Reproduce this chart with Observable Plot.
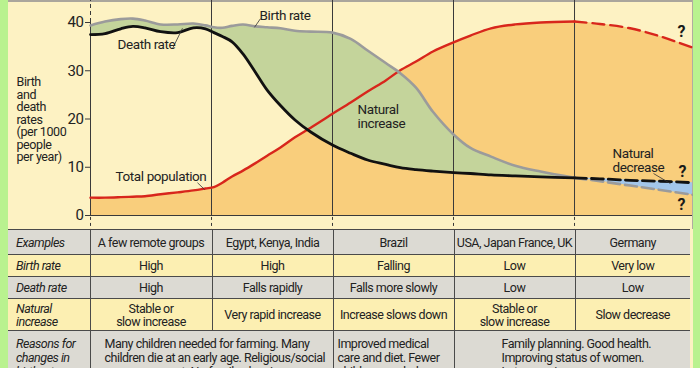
<!DOCTYPE html>
<html><head><meta charset="utf-8">
<script src="https://cdn.jsdelivr.net/npm/d3@7"></script>
<script src="https://cdn.jsdelivr.net/npm/@observablehq/plot@0.6"></script>
<style>
html,body{margin:0;padding:0;background:#b9f28f;width:700px;height:368px;overflow:hidden;}
#panel{position:absolute;left:8px;top:0;width:685px;height:368px;background:#fdf2c3;overflow:hidden;
  font-family:Roboto,"Liberation Sans",sans-serif;color:#222;}
#topline{position:absolute;left:0;top:0;width:685px;height:2px;background:#aaa69c;}
#chart{position:absolute;left:0;top:0;}
#tbl{position:absolute;left:0;top:229px;border-collapse:collapse;table-layout:fixed;width:682px;}
#tbl td{border:1px solid #4a4a4a;padding:0;text-align:center;font-size:12.5px;letter-spacing:-0.5px;line-height:13px;color:#222;vertical-align:middle;white-space:nowrap;overflow:hidden;}
#tbl td.lab{text-align:left;padding-left:8px;font-style:italic;border-left:none;}
#tbl tr td:last-child{border-right:none;}
#tbl tr.g{background:#dcdad3;}
#tbl tr.y{background:#fcefb2;}
#tbl tr.r td{vertical-align:top;text-align:left;line-height:14px;padding-top:6px;}
</style></head>
<body>
<div id="panel"><div id="topline"></div><div id="chart"></div><table id="tbl"></table></div>
<script>
// Stage position (0..5 = five stages of the model)
const stageX =     [0, 0.12, 0.25, 0.35, 0.45, 0.58, 0.72, 0.85, 0.95, 1.02, 1.09, 1.17, 1.26, 1.36, 1.46, 1.57, 1.69, 1.82, 2.0, 2.15, 2.29, 2.44, 2.56, 2.69, 2.83, 3.0, 3.14, 3.31, 3.51, 3.72, 4.0, 4.21, 4.46, 4.71, 4.975];
const birthRate =  [39.4, 40.2, 40.7, 40.8, 40.4, 39.6, 39.6, 39.8, 39.4, 39.0, 38.9, 39.3, 39.6, 39.2, 39.0, 38.8, 38.3, 38.1, 37.9, 36.6, 34.2, 31.6, 29.5, 26.5, 21.5, 16.8, 14.0, 12.2, 10.3, 9.1, 7.8, 7.1, 6.2, 5.3, 4.3];
const deathRate =  [37.5, 37.7, 38.7, 39.2, 38.9, 38.1, 37.9, 38.9, 38.7, 37.9, 37.1, 36.0, 33.5, 29.8, 26.0, 22.8, 19.8, 17.3, 14.6, 12.9, 11.5, 10.6, 9.9, 9.5, 9.2, 8.9, 8.7, 8.4, 8.2, 8.0, 7.8, 7.6, 7.3, 7.1, 6.8];
const population = [3.7, 3.7, 3.8, 3.9, 4.0, 4.4, 4.8, 5.2, 5.6, 5.9, 6.8, 8.1, 9.3, 10.8, 12.4, 14.1, 16.2, 18.2, 21.1, 23.4, 25.7, 28.0, 30.1, 31.9, 34.0, 35.9, 37.3, 38.8, 39.6, 40.0, 40.2, 39.7, 38.8, 37.1, 34.8];
const stageBounds = [0, 1, 2, 3, 4];
const yTicks = [0, 10, 20, 30, 40];
const yLabel = "Birth\nand\ndeath\nrates\n(per 1000\npeople\nper year)";

const labels = [
  {x: 1.397, y: 41.5, text: "Birth rate"},
  {x: 0.223, y: 35.4, text: "Death rate"},
  {x: 2.207, y: 20.5, text: "Natural\nincrease"},
  {x: 0.207, y: 8.1, text: "Total population"},
  {x: 4.314, y: 11.4, text: "Natural\ndecrease"}
];
const questions = [{x: 4.884, y: 38.1}, {x: 4.893, y: 9.1}, {x: 4.884, y: 2.1}];
const leaders = [
  {x1: 1.405, y1: 40.8, x2: 1.355, y2: 39.0},
  {x1: 0.678, y1: 34.6, x2: 0.76, y2: 38.8},
  {x1: 0.884, y1: 6.8, x2: 0.942, y2: 5.4},
  {x1: 4.653, y1: 8.7, x2: 4.793, y2: 6.6}
];

// Table text
const rowLabels = ["Examples", "Birth rate", "Death rate", "Natural\nincrease", "Reasons for\nchanges in\nbirth rate"];
const examples = ["A few remote groups", "Egypt, Kenya, India", "Brazil", "USA, Japan France, UK", "Germany"];
const birthText = ["High", "High", "Falling", "Low", "Very low"];
const deathText = ["High", "Falls rapidly", "Falls more slowly", "Low", "Low"];
const naturalText = ["Stable or\nslow increase", "Very rapid increase", "Increase slows down", "Stable or\nslow increase", "Slow decrease"];
const reasons = [
  "Many children needed for farming. Many\nchildren die at an early age. Religious/social\nencouragement. No family planning.",
  "Improved medical\ncare and diet. Fewer\nchildren needed.",
  "Family planning. Good health.\nImproving status of women.\nLater marriages."
];

const rows = stageX.map((x, i) => ({x, birth: birthRate[i], death: deathRate[i], pop: population[i]}));
const early = rows.filter(d => d.x <= 4);
const late = rows.filter(d => d.x >= 4);

const plot = Plot.plot({
  width: 685, height: 229,
  marginLeft: 82, marginRight: 1, marginTop: 22, marginBottom: 14,
  style: {background: "transparent", fontFamily: "Roboto, sans-serif", color: "#222"},
  x: {domain: [0, 4.975], axis: null},
  y: {domain: [0, 40], axis: null},
  marks: [
    Plot.areaY(rows, {x: "x", y: "pop", fill: "#f9ce7c", curve: "catmull-rom"}),
    Plot.areaY(early, {x: "x", y1: "death", y2: "birth", fill: "#c4d49b", curve: "catmull-rom"}),
    Plot.areaY(late, {x: "x", y1: "birth", y2: "death", fill: "#a3c6ea", curve: "catmull-rom"}),
    Plot.ruleX(stageBounds.filter(d => d > 0), {y1: 0, y2: 44.6, stroke: "#3a3a3a", strokeWidth: 1}),
    Plot.ruleX([0], {y1: 0, y2: 40, stroke: "#3a3a3a", strokeWidth: 1}),
    Plot.ruleX([0], {y1: 40, y2: 44.6, stroke: "#3a3a3a", strokeWidth: 1, strokeDasharray: "4,3"}),
    Plot.ruleX(stageBounds, {y1: -0.4, y2: -2.9, stroke: "#3a3a3a", strokeWidth: 1, strokeDasharray: "3,3"}),
    Plot.ruleX([4.975], {y1: -2.9, y2: 44.6, stroke: "#b0aca0", strokeWidth: 1}),
    Plot.ruleY([0], {x1: 0, x2: 4.975, stroke: "#3a3a3a", strokeWidth: 1}),
    Plot.line(early, {x: "x", y: "pop", stroke: "#d8261c", strokeWidth: 2.4, curve: "catmull-rom"}),
    Plot.line(late, {x: "x", y: "pop", stroke: "#d8261c", strokeWidth: 2.4, strokeDasharray: "12,6", curve: "catmull-rom"}),
    Plot.line(early, {x: "x", y: "birth", stroke: "#9b9b9b", strokeWidth: 2.6, curve: "catmull-rom"}),
    Plot.line(late, {x: "x", y: "birth", stroke: "#9b9b9b", strokeWidth: 2.6, strokeDasharray: "12,5", curve: "catmull-rom"}),
    Plot.line(early, {x: "x", y: "death", stroke: "#111", strokeWidth: 2.8, curve: "catmull-rom"}),
    Plot.line(late, {x: "x", y: "death", stroke: "#111", strokeWidth: 2.8, strokeDasharray: "12,5", curve: "catmull-rom"}),
    Plot.axisY({ticks: yTicks, tickSize: 5, tickPadding: 2, fontSize: 15, stroke: "#3a3a3a", fill: "#222", label: null}),
    Plot.text([yLabel], {frameAnchor: "left", y: [19.8], dx: -74, textAnchor: "start", fontSize: 12.5, lineHeight: 1.0, fill: "#222"}),
    Plot.link(leaders, {x1: "x1", y1: "y1", x2: "x2", y2: "y2", stroke: "#333", strokeWidth: 0.8}),
    Plot.text(labels, {x: "x", y: "y", text: "text", textAnchor: "start", fontSize: 13.5, lineHeight: 1.0, fill: "#222"}),
    Plot.text(questions, {x: "x", y: "y", text: () => "?", fontSize: 16, fontWeight: "bold", fill: "#1a1a1a"})
  ]
});
document.getElementById("chart").appendChild(plot);
plot.querySelectorAll("text").forEach(t => { if (t.textContent !== "?") t.style.letterSpacing = "-0.4px"; });

// table
const tbl = document.getElementById("tbl");
const colW = [82, 122, 121, 121, 121, 115];
const cg = document.createElement("colgroup");
colW.forEach(w => { const c = document.createElement("col"); c.style.width = w + "px"; cg.appendChild(c); });
tbl.appendChild(cg);
const br = s => s.split("\n").join("<br>");
function addRow(cls, h, label, cells) {
  const tr = document.createElement("tr");
  tr.className = cls; tr.style.height = h + "px";
  const l = document.createElement("td"); l.className = "lab"; l.innerHTML = br(label); tr.appendChild(l);
  cells.forEach(c => { const td = document.createElement("td"); td.innerHTML = br(c.text); if (c.span) td.colSpan = c.span; if (c.pad != null) td.style.paddingLeft = c.pad + "px"; tr.appendChild(td); });
  tbl.appendChild(tr);
  return tr;
}
addRow("g", 25, rowLabels[0], examples.map(text => ({text})));
addRow("y", 22, rowLabels[1], birthText.map(text => ({text})));
addRow("g", 22, rowLabels[2], deathText.map(text => ({text})));
addRow("y", 32, rowLabels[3], naturalText.map(text => ({text})));
addRow("g r", 50, rowLabels[4], [{text: reasons[0], span: 2, pad: 14}, {text: reasons[1], pad: 4}, {text: reasons[2], span: 2, pad: 47}]);
</script>
</body></html>
